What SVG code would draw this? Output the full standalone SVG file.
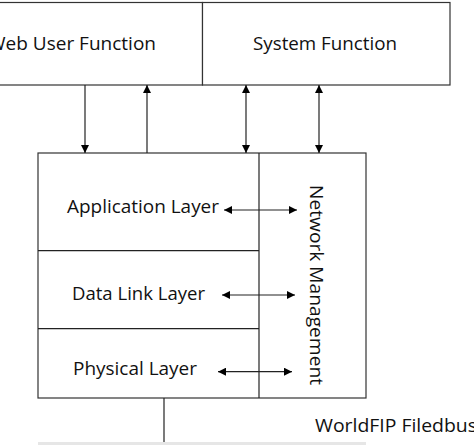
<svg xmlns="http://www.w3.org/2000/svg" width="474" height="445" viewBox="0 0 474 445">
<defs>
<marker id="ah" viewBox="0 0 10 10" refX="10" refY="5" markerWidth="8" markerHeight="8" markerUnits="userSpaceOnUse" orient="auto-start-reverse">
<path d="M0,0 L10,5 L0,10 Z" fill="#000"/>
</marker>
</defs>
<style>
.box{fill:#fff;stroke:#333;stroke-width:1.2}
.ln{stroke:#222;stroke-width:1.2;fill:none}
.t{font-family:"Open Sans","Liberation Sans",sans-serif;font-size:17.5px;fill:#111}
</style>
<rect x="0" y="0" width="474" height="445" fill="#fff"/>
<g id="web-user-function">
<rect class="box" x="-5" y="2.5" width="207.5" height="82.5"/>
<text class="t" x="-12" y="50" textLength="168" lengthAdjust="spacingAndGlyphs">Web User Function</text>
</g>
<g id="system-function">
<rect class="box" x="202.5" y="2.5" width="247.5" height="82.5"/>
<text class="t" x="253" y="50" textLength="144" lengthAdjust="spacingAndGlyphs">System Function</text>
</g>
<g id="stack">
<rect class="box" x="38" y="153" width="328" height="245"/>
<line class="ln" x1="259" y1="153" x2="259" y2="398"/>
</g>
<g id="application-layer">
<line class="ln" x1="38" y1="250.7" x2="259" y2="250.7"/>
<text class="t" x="67" y="213" textLength="152" lengthAdjust="spacingAndGlyphs">Application Layer</text>
</g>
<g id="data-link-layer">
<line class="ln" x1="38" y1="328.7" x2="259" y2="328.7"/>
<text class="t" x="72" y="300" textLength="133" lengthAdjust="spacingAndGlyphs">Data Link Layer</text>
</g>
<g id="physical-layer">
<text class="t" x="73" y="375" textLength="124" lengthAdjust="spacingAndGlyphs">Physical Layer</text>
</g>
<g id="network-management">
<text class="t" transform="translate(310,185) rotate(90)" x="0" y="0" textLength="200" lengthAdjust="spacingAndGlyphs">Network Management</text>
</g>
<g id="worldfip-filedbus">
<line class="ln" x1="164" y1="398" x2="164" y2="445"/>
<rect x="38" y="442" width="328" height="3" fill="#e6e6e6"/>
<text class="t" x="315" y="432" textLength="162" lengthAdjust="spacingAndGlyphs">WorldFIP Filedbus</text>
</g>
<g id="connectors">
<line class="ln" x1="85" y1="85" x2="85" y2="153" marker-end="url(#ah)"/>
<line class="ln" x1="147" y1="153" x2="147" y2="85" marker-end="url(#ah)"/>
<line class="ln" x1="246" y1="85" x2="246" y2="153" marker-start="url(#ah)" marker-end="url(#ah)"/>
<line class="ln" x1="319" y1="85" x2="319" y2="153" marker-start="url(#ah)" marker-end="url(#ah)"/>
<line class="ln" x1="224" y1="210" x2="297" y2="210" marker-start="url(#ah)" marker-end="url(#ah)"/>
<line class="ln" x1="222" y1="295" x2="295" y2="295" marker-start="url(#ah)" marker-end="url(#ah)"/>
<line class="ln" x1="218" y1="371.7" x2="292" y2="371.7" marker-start="url(#ah)" marker-end="url(#ah)"/>
</g>
</svg>
